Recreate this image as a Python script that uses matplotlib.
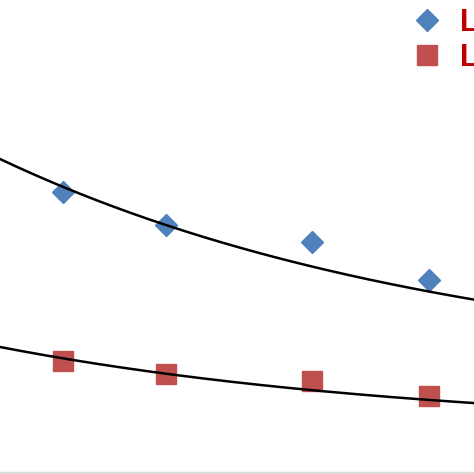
import matplotlib
matplotlib.use("Agg")
import matplotlib.pyplot as plt
import numpy as np

# measured points (arbitrary units, cropped chart: no axes visible)
x_pts = [63, 166, 312, 429]
blue_vals = [282.3, 249.0, 231.7, 194.0]
red_vals = [113.3, 100.0, 93.3, 78.3]
labels = ["Lorem", "Lorem"]

# trend lines: y = c + a * exp(-x / tau)
blue_fit = (95.0, 220.0, 465.0)
red_fit = (42.0, 85.0, 440.0)

C_BLUE = "#4F81BD"
C_RED = "#C0504D"
C_TEXT = "#C00000"

fig = plt.figure(figsize=(4.74, 4.74), dpi=100)
ax = fig.add_axes([0, 0, 1, 1])
ax.set_xlim(0, 474)
ax.set_ylim(0, 474)
for s in ax.spines.values():
    s.set_visible(False)
ax.set_xticks([]); ax.set_yticks([])

xs = np.linspace(0, 474, 300)
for c, a, tau in (blue_fit, red_fit):
    ax.plot(xs, c + a * np.exp(-xs / tau), color="black", lw=1.8, zorder=3)

h1, = ax.plot(x_pts, blue_vals, "D", ms=10.8, color=C_BLUE, mec=C_BLUE, ls="none", zorder=2)
h2, = ax.plot(x_pts, red_vals, "s", ms=14.4, color=C_RED, mec=C_RED, ls="none", zorder=2)

ax.axhline(1.5, color="#dcdcdc", lw=2.5)

ax.legend([h1, h2], labels, loc="upper left", bbox_to_anchor=(399.5 / 474, 1.009),
          borderaxespad=0, frameon=False, handlelength=1.0, handletextpad=0.58,
          labelspacing=0.16, prop={"weight": "bold", "size": 22, "family": "Liberation Sans"},
          labelcolor=C_TEXT)

fig.savefig("out.png", dpi=100)
